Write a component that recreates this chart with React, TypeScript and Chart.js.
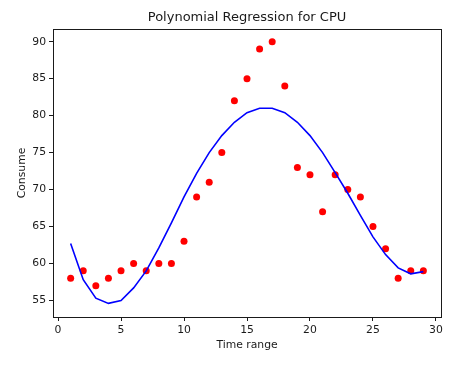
import React, { useEffect, useRef } from "react";
import { Chart, registerables } from "chart.js";

Chart.register(...registerables);

const timeRange = [1, 2, 3, 4, 5, 6, 7, 8, 9, 10, 11, 12, 13, 14, 15, 16, 17, 18, 19, 20, 21, 22, 23, 24, 25, 26, 27, 28, 29];
const consume = [58, 59, 57, 58, 59, 60, 59, 60, 60, 63, 69, 71, 75, 82, 85, 89, 90, 84, 73, 72, 67, 72, 70, 69, 65, 62, 58, 59, 59];
const fitted = [62.7, 57.8, 55.3, 54.6, 55.0, 56.7, 59.0, 62.1, 65.5, 69.0, 72.2, 75.0, 77.3, 79.1, 80.4, 81.0, 81.0, 80.4, 79.1, 77.3, 75.0, 72.3, 69.5, 66.5, 63.6, 61.2, 59.4, 58.6, 58.9];
const xTicks = [0, 5, 10, 15, 20, 25, 30];
const yTicks = [55, 60, 65, 70, 75, 80, 85, 90];

const FONT = "'DejaVu Sans', sans-serif";
const INK = "#1a1a1a";

const framePlugin = {
  id: "frame",
  afterDraw(chart: any) {
    const { ctx, chartArea } = chart;
    ctx.save();
    ctx.strokeStyle = INK;
    ctx.lineWidth = 1;
    ctx.strokeRect(
      Math.round(chartArea.left) + 0.5,
      Math.round(chartArea.top) + 0.5,
      Math.round(chartArea.right - chartArea.left),
      Math.round(chartArea.bottom - chartArea.top)
    );
    ctx.restore();
  },
};

export default function App() {
  const ref = useRef<HTMLCanvasElement | null>(null);

  useEffect(() => {
    if (!ref.current) return;
    const chart = new Chart(ref.current, {
      type: "scatter",
      data: {
        datasets: [
          {
            type: "line",
            label: "fit",
            data: timeRange.map((x, i) => ({ x, y: fitted[i] })),
            borderColor: "#0000ff",
            borderWidth: 1.6,
            pointRadius: 0,
            fill: false,
            tension: 0,
            order: 0,
          } as any,
          {
            type: "scatter",
            label: "data",
            data: timeRange.map((x, i) => ({ x, y: consume[i] })),
            backgroundColor: "#ff0000",
            borderColor: "#ff0000",
            pointRadius: 3.5,
            borderWidth: 0,
            order: 1,
          },
        ],
      },
      options: {
        responsive: false,
        animation: false,
        devicePixelRatio: 1,
        layout: { padding: { left: 0, right: 33, top: 0, bottom: 0 } },
        plugins: {
          legend: { display: false },
          tooltip: { enabled: false },
          title: {
            display: true,
            fullSize: false,
            text: "Polynomial Regression for CPU",
            color: INK,
            font: { family: FONT, size: 13, weight: "normal" },
            padding: { top: 9.4, bottom: 4 },
          },
        },
        scales: {
          x: {
            type: "linear",
            min: -0.4,
            max: 30.4,
            afterBuildTicks: (scale: any) => {
              scale.ticks = xTicks.map((v) => ({ value: v }));
            },
            afterFit: (scale: any) => {
              scale.height = 49;
            },
            border: { display: false },
            grid: { drawOnChartArea: false, drawTicks: true, tickLength: 4, color: INK },
            ticks: { color: INK, font: { family: FONT, size: 10.8 }, padding: 3, maxRotation: 0 },
            title: {
              display: true,
              text: "Time range",
              color: INK,
              font: { family: FONT, size: 10.8 },
              padding: { top: 4, bottom: 14.5 },
            },
          },
          y: {
            type: "linear",
            min: 52.76,
            max: 91.72,
            afterBuildTicks: (scale: any) => {
              scale.ticks = yTicks.map((v) => ({ value: v }));
            },
            afterFit: (scale: any) => {
              scale.width = 53;
            },
            border: { display: false },
            grid: { drawOnChartArea: false, drawTicks: true, tickLength: 4, color: INK },
            ticks: { color: INK, font: { family: FONT, size: 10.8 }, padding: 3 },
            title: {
              display: true,
              text: "Consume",
              color: INK,
              font: { family: FONT, size: 10.8 },
              padding: { top: 15.5, bottom: 4 },
            },
          },
        },
      },
      plugins: [framePlugin],
    });
    return () => chart.destroy();
  }, []);

  return (
    <div style={{ position: "fixed", left: 0, top: 0, width: 474, height: 366, background: "#fff" }}>
      <canvas ref={ref} width={474} height={366} style={{ display: "block" }} />
    </div>
  );
}
